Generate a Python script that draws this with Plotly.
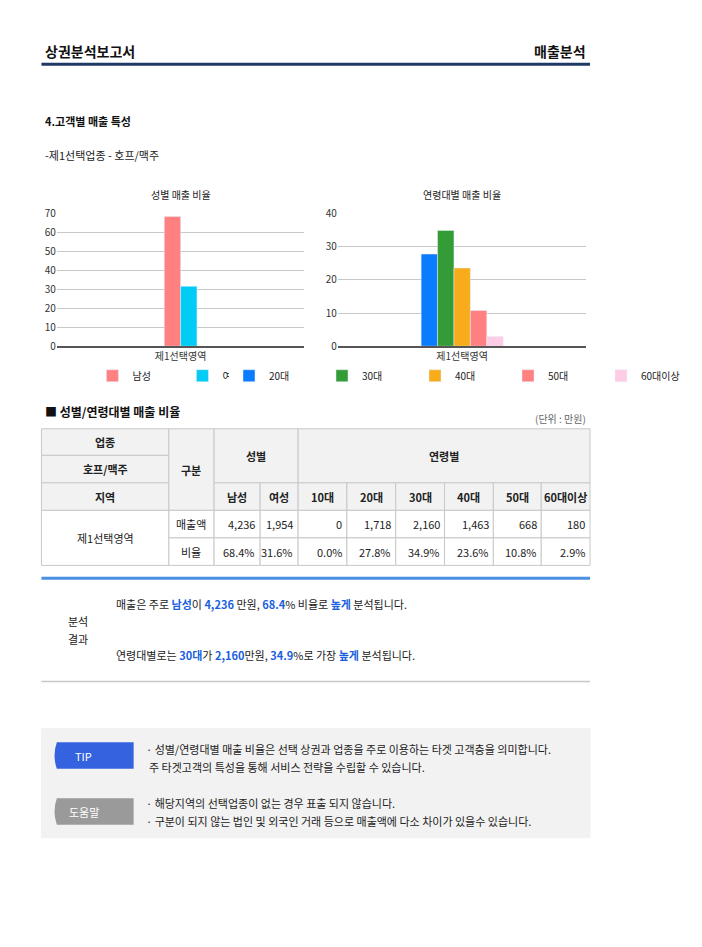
import plotly.graph_objects as go

W, H = 686, 931
OX, OY = 8, 8
FONT = "Noto Sans CJK KR"

gender_labels = ["남성", "여성"]
gender_values = [68.4, 31.6]
gender_colors = ["#ff8080", "#00ccf5"]
age_labels = ["20대", "30대", "40대", "50대", "60대이상"]
age_values = [27.8, 34.9, 23.6, 10.8, 2.9]
age_colors = ["#0a7cff", "#349c37", "#f8ac1c", "#ff8080", "#ffcce6"]
category = ["제1선택영역"]

table_cols = ["남성", "여성", "10대", "20대", "30대", "40대", "50대", "60대이상"]
sales = ["4,236", "1,954", "0", "1,718", "2,160", "1,463", "668", "180"]
ratio = ["68.4%", "31.6%", "0.0%", "27.8%", "34.9%", "23.6%", "10.8%", "2.9%"]

def px(x): return (x - OX) / W
def py(y): return 1 - (y - OY) / H

BW = 0.066
fig = go.Figure()
n = len(gender_values)
for i, (lab, v, c) in enumerate(zip(gender_labels, gender_values, gender_colors)):
    fig.add_trace(go.Bar(x=category, y=[v], name=lab, marker_color=c, xaxis="x", yaxis="y",
                         width=BW, offset=-n * BW / 2 + i * BW, legend="legend"))
n = len(age_values)
for i, (lab, v, c) in enumerate(zip(age_labels, age_values, age_colors)):
    fig.add_trace(go.Bar(x=category, y=[v], name=lab, marker_color=c, xaxis="x2", yaxis="y2",
                         width=BW, offset=-n * BW / 2 + i * BW, legend="legend2"))

ax = dict(showgrid=False, showline=True, linecolor="#555", linewidth=1.5, tickfont=dict(size=10, color="#333"), fixedrange=True)
ay = dict(showgrid=True, gridcolor="#c8c8c8", zeroline=False, tickfont=dict(size=10, color="#333"), ticks="", fixedrange=True)
fig.update_layout(
    width=W, height=H, margin=dict(l=0, r=0, t=0, b=0),
    paper_bgcolor="white", plot_bgcolor="white",
    font=dict(family=FONT, size=11, color="#222"),
    barmode="group",
    xaxis=dict(domain=[px(62), px(336)], anchor="y", **ax),
    yaxis=dict(domain=[py(343), py(208)], range=[0, 70], dtick=10, anchor="x", **ay),
    xaxis2=dict(domain=[px(373), px(648)], anchor="y2", **ax),
    yaxis2=dict(domain=[py(343), py(208)], range=[0, 40], dtick=10, anchor="x2", **ay),
    legend=dict(orientation="h", x=px(201), xanchor="center", y=py(373), yanchor="middle",
                font=dict(size=10), entrywidth=45, itemwidth=30, tracegroupgap=0),
    legend2=dict(orientation="h", x=px(510), xanchor="center", y=py(373), yanchor="middle",
                 font=dict(size=10), entrywidth=48, itemwidth=30),
    showlegend=True,
)

shapes = []
ann = []
def text(x, y, s, size=11, anchor="center", color="#222", bold=False):
    if bold: s = "<b>" + s + "</b>"
    ann.append(dict(x=px(x), y=py(y), xref="paper", yref="paper", text=s, showarrow=False,
                    xanchor=anchor, yanchor="middle", font=dict(size=size, color=color, family=FONT)))
def rect(x0, y0, x1, y1, fill=None, line="#c8c8c8", lw=1):
    shapes.append(dict(type="rect", xref="paper", yref="paper", x0=px(x0), x1=px(x1), y0=py(y0), y1=py(y1),
                       fillcolor=fill, line=dict(color=line, width=lw), layer="below"))
def hline(x0, x1, y, color, w):
    shapes.append(dict(type="line", xref="paper", yref="paper", x0=px(x0), x1=px(x1), y0=py(y), y1=py(y),
                       line=dict(color=color, width=w)))

# header
text(47, 43, "상권분석보고서", 14, "left", "#111", True)
text(650, 43, "매출분석", 14, "right", "#111", True)
hline(45, 652, 56, "#1f3864", 3)
text(47, 114, "4.고객별 매출 특성", 11, "left", "#111", True)
text(47, 148, "-제1선택업종 - 호프/맥주", 11, "left")
text(199, 189, "성별 매출 비율", 10, "center")
text(510, 189, "연령대별 매출 비율", 10, "center")

# table
text(47, 409, "■ 성별/연령대별 매출 비율", 12, "left", "#111", True)
text(650, 417, "(단위 : 만원)", 10, "right", "#666")
cx = [45, 186, 236, 287, 329, 383, 437, 491, 545, 598, 652]
ry = [427, 454, 482, 510, 538, 566]
hdr = "#f2f2f2"
for i, lab in enumerate(["업종", "호프/맥주", "지역"]):
    rect(cx[0], ry[i], cx[1], ry[i + 1], hdr)
    text((cx[0] + cx[1]) / 2, (ry[i] + ry[i + 1]) / 2, lab, 11, bold=True)
rect(cx[1], ry[0], cx[2], ry[3], hdr)
text((cx[1] + cx[2]) / 2, (ry[0] + ry[3]) / 2, "구분", 11, bold=True)
rect(cx[2], ry[0], cx[4], ry[2], hdr)
text((cx[2] + cx[4]) / 2, (ry[0] + ry[2]) / 2, "성별", 11, bold=True)
rect(cx[4], ry[0], cx[10], ry[2], hdr)
text((cx[4] + cx[10]) / 2, (ry[0] + ry[2]) / 2, "연령별", 11, bold=True)
for j, lab in enumerate(table_cols):
    rect(cx[j + 2], ry[2], cx[j + 3], ry[3], hdr)
    text((cx[j + 2] + cx[j + 3]) / 2, (ry[2] + ry[3]) / 2, lab, 11, bold=True)
rect(cx[0], ry[3], cx[1], ry[5], "white")
text((cx[0] + cx[1]) / 2, (ry[3] + ry[5]) / 2, "제1선택영역", 11)
for r, (lab, vals) in enumerate([("매출액", sales), ("비율", ratio)]):
    y0, y1 = ry[3 + r], ry[4 + r]
    rect(cx[1], y0, cx[2], y1, "white")
    text((cx[1] + cx[2]) / 2, (y0 + y1) / 2, lab, 11)
    for j, v in enumerate(vals):
        rect(cx[j + 2], y0, cx[j + 3], y1, "white")
        text(cx[j + 3] - 3, (y0 + y1) / 2, v, 11, "right")

# analysis
hline(45, 652, 579, "#4a90e2", 3)
B = "<span style='color:#1a5fe0'><b>%s</b></span>"
text(125, 605, "매출은 주로 " + B % "남성" + "이 " + B % "4,236" + " 만원, " + B % "68.4" + "% 비율로 " + B % "높게" + " 분석됩니다.", 11, "left")
text(85, 623, "분석", 11, "center")
text(85, 641, "결과", 11, "center")
text(125, 657, "연령대별로는 " + B % "30대" + "가 " + B % "2,160" + "만원, " + B % "34.9" + "%로 가장 " + B % "높게" + " 분석됩니다.", 11, "left")
hline(45, 652, 684, "#c8c8c8", 1.5)

# tip box
rect(45, 732, 652, 843, "#f2f2f2", "#f2f2f2")
def pill(y0, y1, color):
    shapes.append(dict(type="path", xref="paper", yref="paper", layer="below",
                       path=f"M {px(62)},{py(y0)} L {px(147)},{py(y0)} L {px(147)},{py(y1)} L {px(62)},{py(y1)} Q {px(57)},{py((y0 + y1) / 2)} {px(62)},{py(y0)} Z",
                       fillcolor=color, line=dict(width=0)))
pill(746, 773, "#3563e0")
text(92, 760, "TIP", 11, "center", "white")
pill(803, 830, "#9a9a9a")
text(92, 817, "도움말", 11, "center", "white")
text(158, 753, "· 성별/연령대별 매출 비율은 선택 상권과 업종을 주로 이용하는 타겟 고객층을 의미합니다.", 11, "left")
text(162, 771, "주 타겟고객의 특성을 통해 서비스 전략을 수립할 수 있습니다.", 11, "left")
text(158, 808, "· 해당지역의 선택업종이 없는 경우 표출 되지 않습니다.", 11, "left")
text(158, 826, "· 구분이 되지 않는 법인 및 외국인 거래 등으로 매출액에 다소 차이가 있을수 있습니다.", 11, "left")

fig.update_layout(shapes=shapes, annotations=ann)
fig.write_html("out.html")
